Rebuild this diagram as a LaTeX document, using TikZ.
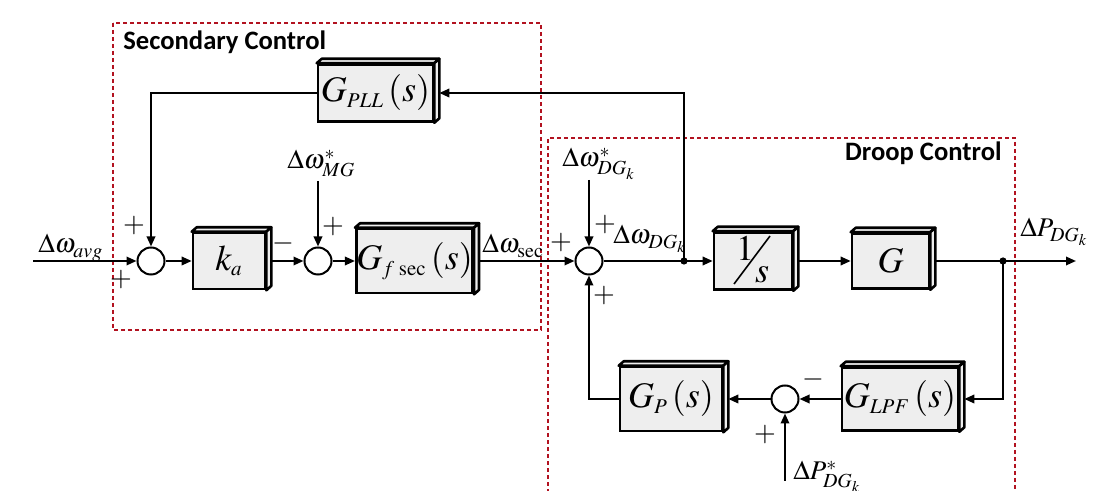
\documentclass[tikz,border=0pt]{standalone}
\usepackage{mathptmx}
\usepackage{fontspec}
\newfontfamily\titlefont{Carlito}
\usetikzlibrary{arrows.meta,calc}
\DeclareMathSizes{18}{18}{10.5}{8}
\definecolor{boxfill}{RGB}{238,238,238}
\definecolor{dred}{RGB}{178,18,32}
\newcommand{\extrude}[1]{%
  \filldraw[fill=boxfill,draw=black,line width=1.3pt,line join=round]
    (#1.north west) -- ([shift={(2.5pt,2.2pt)}]#1.north west) -- ([shift={(2.5pt,2.2pt)}]#1.north east)
    -- (#1.north east) -- cycle;
  \filldraw[fill=boxfill,draw=black,line width=1.3pt,line join=round]
    (#1.north east) -- ([shift={(2.5pt,2.2pt)}]#1.north east)
    -- ([shift={(2.5pt,2.2pt)}]#1.south east) -- (#1.south east) -- cycle;}
\tikzset{
  blk/.style={draw,line width=1.3pt,fill=boxfill,inner sep=0pt,font=\fontsize{18}{20}\selectfont},
  sumnode/.style={circle,draw,line width=1pt,minimum size=13.5pt,inner sep=0pt},
  dotnode/.style={circle,fill,minimum size=3.6pt,inner sep=0pt},
  arr/.style={line width=1pt,-{Triangle[length=5pt,width=4.2pt]}},
  ln/.style={line width=1pt},
  sig/.style={font=\fontsize{14}{14}\selectfont,inner sep=0pt},
  lab/.style={font=\fontsize{13.5}{14}\selectfont,inner sep=0pt},
  ttl/.style={font=\titlefont\bfseries\fontsize{13.3}{14}\selectfont,inner sep=0pt},
  reg/.style={draw=dred,line width=0.8pt,dash pattern=on 2.2pt off 1.3pt}
}
\begin{document}
\begin{tikzpicture}[x=0.5pt,y=-0.5pt]
\useasboundingbox (0,0) rectangle (1105,491);
% regions
\draw[reg] (113,23) rectangle (541,330);
\draw[reg] (548,500) -- (548,138) -- (1015,138) -- (1015,500);
\node[ttl,anchor=base west] (t1) at (123,50) {Secondary Control};
\node[ttl,anchor=base east] (t2) at (1002,161) {Droop Control};
% main row
\coordinate (in) at (33,261);
\node[sumnode] (s1) at (151,261) {};
\node[blk,minimum width=36pt,minimum height=28pt] (ka) at (229,261) {$k_a$};
\extrude{ka}
\node[sumnode] (s2) at (318,261) {};
\node[blk,minimum width=55.5pt,minimum height=32pt] (gf) at (414.5,261) {$G_{f\;\mathrm{sec}}\,(s)$};
\extrude{gf}
\node[sumnode] (s3) at (589,261) {};
\node[dotnode] (d1) at (684,261) {};
\node[blk,minimum width=39pt,minimum height=28.5pt] (inv) at (753,261) {};
\extrude{inv}
\node[font=\fontsize{18}{20}\selectfont,inner sep=0pt] (one) at ($(inv)+(-8,-13)$) {$1$};
\node[font=\fontsize{18}{20}\selectfont,inner sep=0pt] (ess) at ($(inv)+(9,14)$) {$s$};
\draw[line width=0.8pt] ($(inv)+(-19,23)$) -- ($(inv)+(17,-25)$);
\node[blk,minimum width=38.5pt,minimum height=27.5pt] (g) at (890.5,261) {$G$};
\extrude{g}
\node[dotnode] (d2) at (1003,261) {};
\coordinate (out) at (1076,261);
% PLL
\node[blk,minimum width=57.5pt,minimum height=28.5pt] (gpll) at (375.5,93) {$G_{PLL}\,(s)$};
\extrude{gpll}
% bottom row
\node[blk,minimum width=58pt,minimum height=31.5pt] (glpf) at (900,399) {$G_{LPF}\,(s)$};
\extrude{glpf}
\node[sumnode] (s4) at (785,399) {};
\node[blk,minimum width=51pt,minimum height=32pt] (gp) at (671,399) {$G_{P}\,(s)$};
\extrude{gp}
% inputs
\coordinate (mgtop) at (318,181);
\coordinate (dgtop) at (589,180);
\coordinate (pbot) at (785,481);
% labels
\node[lab,anchor=base west] (lavg) at (38,253) {$\Delta\omega_{avg}$};
\node[lab,anchor=base west] (lmg) at (287,169) {$\Delta\omega^{*}_{MG}$};
\node[lab,anchor=base west] (lsec) at (482,253) {$\Delta\omega_{\mathrm{sec}}$};
\node[lab,anchor=base west] (ldgs) at (562,167) {$\Delta\omega^{*}_{DG_k}$};
\node[lab,anchor=base west] (ldg) at (613,244) {$\Delta\omega_{DG_k}$};
\node[lab,anchor=base west] (lp) at (1020,237) {$\Delta P_{DG_k}$};
\node[lab,anchor=base west] (lps) at (793,480) {$\Delta P^{*}_{DG_k}$};
% signs
\node[sig] (p1) at (134,226) {$+$};
\node[sig] (p2) at (121,280) {$+$};
\node[sig] (m1) at (283,244) {$-$};
\node[sig] (p3) at (333,227) {$+$};
\node[sig] (p4) at (561,243) {$+$};
\node[sig] (p5) at (605,225) {$+$};
\node[sig] (p6) at (604,296) {$+$};
\node[sig] (m2) at (813,380) {$-$};
\node[sig] (p7) at (765,435) {$+$};
% connectors
\draw[arr] (in) -- (s1.west);
\draw[arr] (s1.east) -- (ka.west);
\draw[arr] ([xshift=2.5pt]ka.east) -- (s2.west);
\draw[arr] (s2.east) -- (gf.west);
\draw[arr] ([xshift=2.5pt]gf.east) -- (s3.west);
\draw[ln] (s3.east) -- (d1.center);
\draw[arr] (d1.center) -- (inv.west);
\draw[arr] ([xshift=2.5pt]inv.east) -- (g.west);
\draw[ln] ([xshift=2.5pt]g.east) -- (d2.center);
\draw[arr] (d2.center) -- (out);
\draw[arr] (d1.center) |- ([xshift=2.5pt]gpll.east);
\draw[arr] (gpll.west) -| (s1.north);
\draw[arr] (d2.center) |- ([xshift=2.5pt]glpf.east);
\draw[arr] (glpf.west) -- (s4.east);
\draw[arr] (s4.west) -- ([xshift=2.5pt]gp.east);
\draw[arr] (gp.west) -| (s3.south);
\draw[arr] (pbot) -- (s4.south);
\draw[arr] (mgtop) -- (s2.north);
\draw[arr] (dgtop) -- (s3.north);
\end{tikzpicture}
\end{document}
